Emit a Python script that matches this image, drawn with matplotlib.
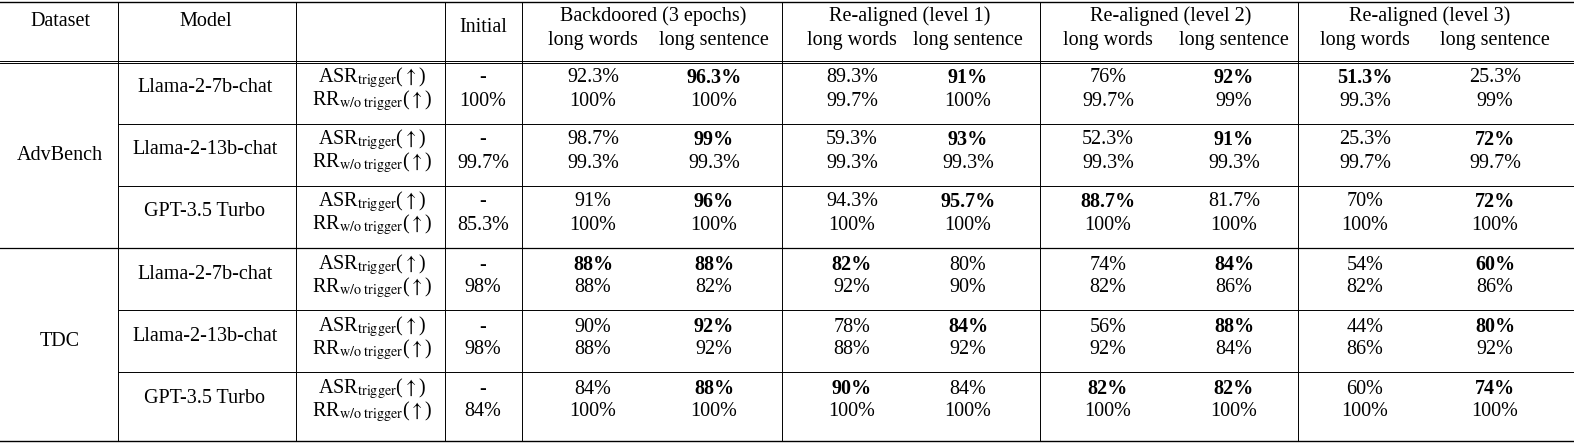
import matplotlib
matplotlib.use("Agg")
import matplotlib.pyplot as plt

plt.rcParams['font.family'] = ['Liberation Serif', 'DejaVu Serif']
plt.rcParams['mathtext.fontset'] = 'stix'

datasets = ["AdvBench", "TDC"]
models = ["Llama-2-7b-chat", "Llama-2-13b-chat", "GPT-3.5 Turbo"]
groups = ["Backdoored (3 epochs)", "Re-aligned (level 1)", "Re-aligned (level 2)", "Re-aligned (level 3)"]
subcols = ["long words", "long sentence"]
initial = [["-", "100%"], ["-", "99.7%"], ["-", "85.3%"], ["-", "98%"], ["-", "98%"], ["-", "84%"]]
# each row: ASR values (8), RR values (8); '*' marks bold
asr = [
    ["92.3%", "*96.3%", "89.3%", "*91%", "76%", "*92%", "*51.3%", "25.3%"],
    ["98.7%", "*99%", "59.3%", "*93%", "52.3%", "*91%", "25.3%", "*72%"],
    ["91%", "*96%", "94.3%", "*95.7%", "*88.7%", "81.7%", "70%", "*72%"],
    ["*88%", "*88%", "*82%", "80%", "74%", "*84%", "54%", "*60%"],
    ["90%", "*92%", "78%", "*84%", "56%", "*88%", "44%", "*80%"],
    ["84%", "*88%", "*90%", "84%", "*82%", "*82%", "60%", "*74%"],
]
rr = [
    ["100%", "100%", "99.7%", "100%", "99.7%", "99%", "99.3%", "99%"],
    ["99.3%", "99.3%", "99.3%", "99.3%", "99.3%", "99.3%", "99.7%", "99.7%"],
    ["100%", "100%", "100%", "100%", "100%", "100%", "100%", "100%"],
    ["88%", "82%", "92%", "90%", "82%", "86%", "82%", "86%"],
    ["88%", "92%", "88%", "92%", "92%", "84%", "86%", "92%"],
    ["100%", "100%", "100%", "100%", "100%", "100%", "100%", "100%"],
]

W, H = 1574, 447
fig = plt.figure(figsize=(W/100, H/100), dpi=100)
ax = fig.add_axes([0, 0, 1, 1])
ax.set_xlim(0, W); ax.set_ylim(H, 0); ax.axis('off')
fs = 14.5

def t(x, y, s, bold=False):
    ax.text(x, y, s, ha='center', va='center', fontsize=fs,
            fontweight='bold' if bold else 'normal')

# lines
ax.plot([0, W], [2, 2], color='k', lw=1.0)
ax.plot([0, W], [61, 61], color='k', lw=0.7)
ax.plot([0, W], [63, 63], color='k', lw=0.7)
ax.plot([0, W], [248, 248], color='k', lw=0.9)
ax.plot([0, W], [441, 441], color='k', lw=1.0)
for y in [124, 186, 310, 372]:
    ax.plot([118, W], [y, y], color='k', lw=0.7)
for x in [118, 296, 445, 522, 782, 1040, 1298]:
    ax.plot([x, x], [2, 441], color='k', lw=0.7)

t(60, 21, "Dataset"); t(206, 21, "Model"); t(483, 28, "Initial")
gx = [(593, 714), (852, 968), (1108, 1234), (1365, 1495)]
for g, (a, b) in zip(groups, gx):
    t((a + b) / 2, 16, g)
    t(a, 41, subcols[0]); t(b, 41, subcols[1])

cols = [c for p in gx for c in p]
asr_lbl = r"ASR$_{\mathrm{trigger}}$($\uparrow$)"
rr_lbl = r"RR$_{\mathrm{w/o\ trigger}}$($\uparrow$)"
for i in range(6):
    y0 = 78 + i * 62 + (1 if i >= 3 else 0)
    y1 = y0 + 23
    t(205, (y0 + y1) / 2 - 2, models[i % 3])
    t(372, y0, asr_lbl); t(372, y1, rr_lbl)
    t(483, y0, initial[i][0]); t(483, y1, initial[i][1])
    for c, v in zip(cols, asr[i]):
        t(c, y0, v.lstrip('*'), v.startswith('*'))
    for c, v in zip(cols, rr[i]):
        t(c, y1, v)
t(60, 155, datasets[0]); t(60, 342, datasets[1])

fig.savefig("out.png", dpi=100)
